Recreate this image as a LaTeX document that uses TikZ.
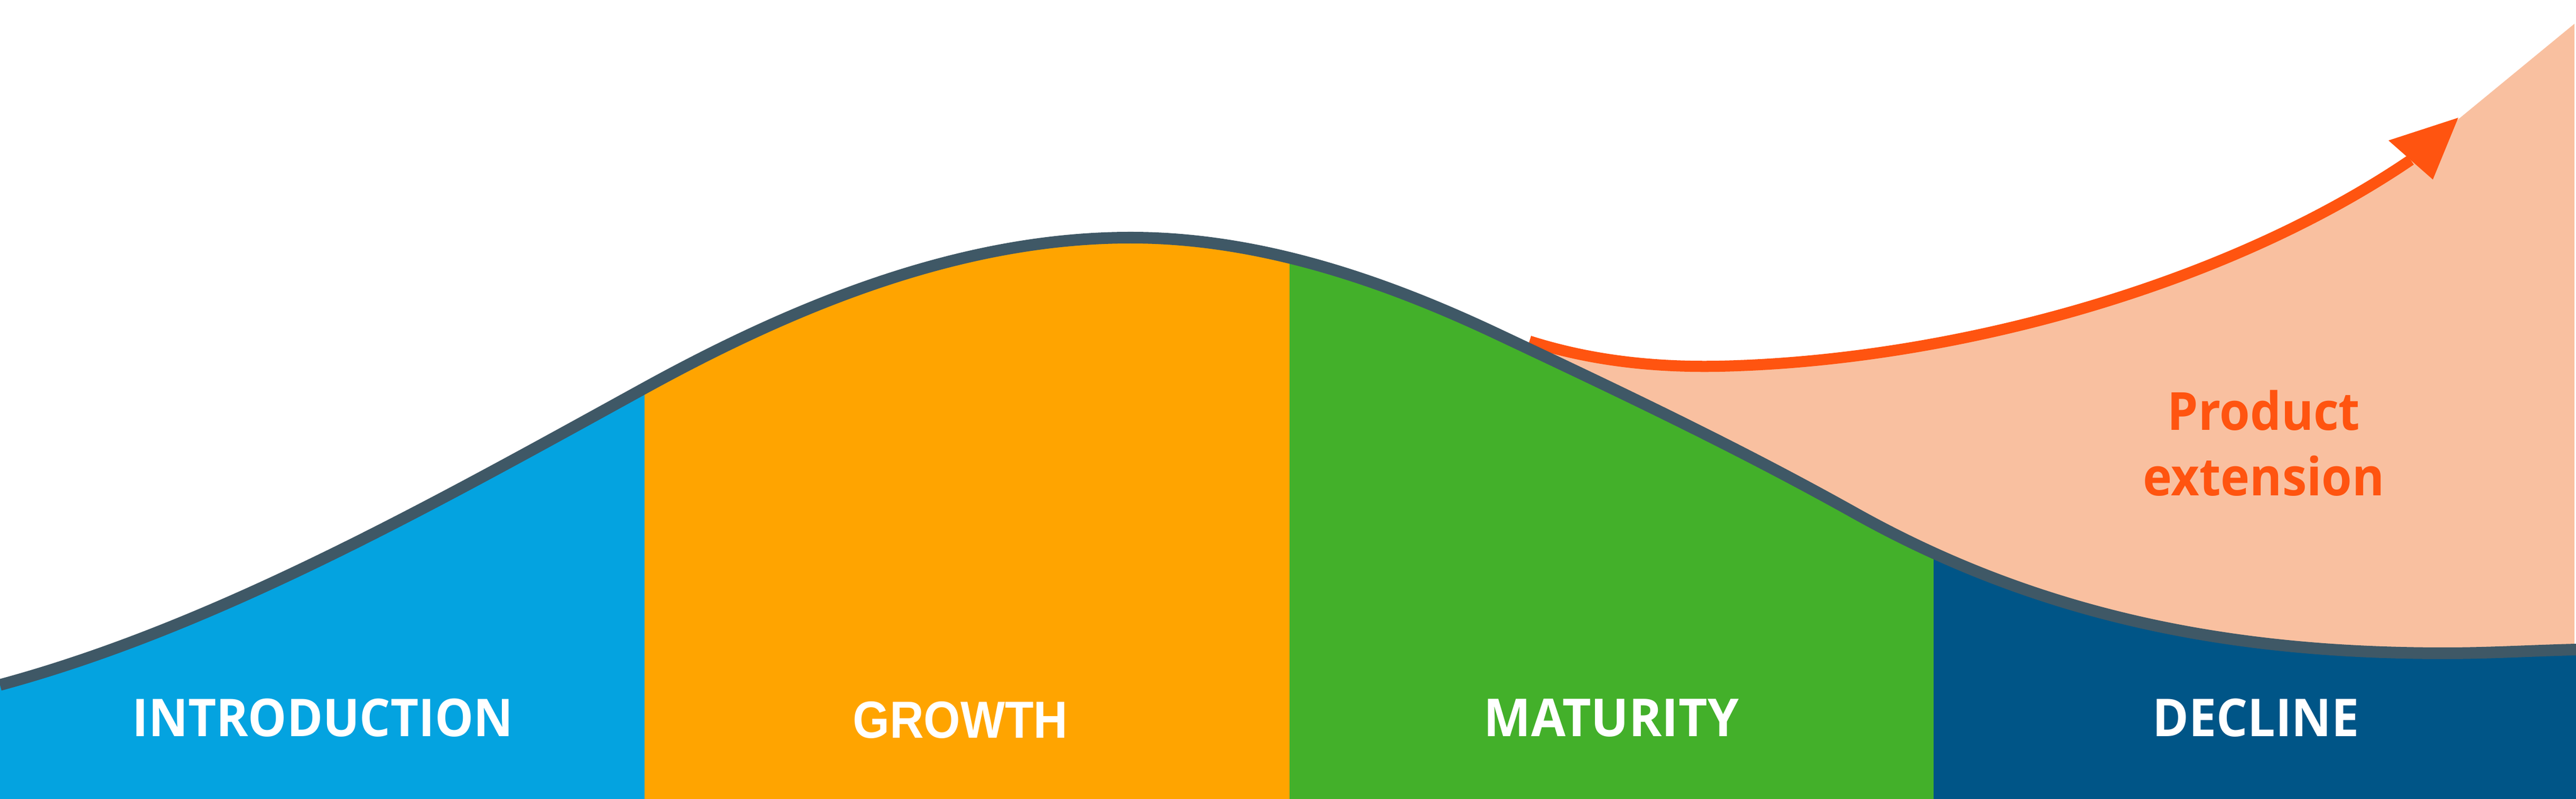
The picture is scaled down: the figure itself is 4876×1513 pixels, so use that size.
\documentclass[tikz,border=0pt]{standalone}
\usepackage{graphicx}
\usepackage{fontspec}
\newfontfamily\labelfont{Open Sans}[FakeStretch=0.935]
\newfontfamily\growthfont{Liberation Sans}
\definecolor{introblue}{HTML}{04A3E0}
\definecolor{growthorange}{HTML}{FFA400}
\definecolor{maturegreen}{HTML}{43B02A}
\definecolor{declinenavy}{HTML}{005587}
\definecolor{curvegray}{HTML}{3F5866}
\definecolor{peach}{HTML}{F9C0A0}
\definecolor{extorange}{HTML}{FF5410}
\newcommand{\phasetext}[4][\labelfont]{\resizebox{#2}{#3}{#1\bfseries #4}}
\tikzset{
  gcurve/.style={insert path={(0,1297)
    .. controls (407,1187) and (813,959) .. (1220,735)
    .. controls (1527,566) and (1833,450) .. (2140,450)
    .. controls (2370,450) and (2599,522) .. (2829,630)
    .. controls (3056,737) and (3283,844) .. (3510,971)
    .. controls (3883,1180) and (4255,1237) .. (4628,1237)
    .. controls (4711,1237) and (4793,1232) .. (4876,1230)}},
  acurve/.style={insert path={(2895,646)
    .. controls (3021,686) and (3148,697) .. (3274,693)
    .. controls (3704,680) and (4213,541) .. (4563,303)}},
  phase/.style={anchor=base, text=white, inner sep=0pt},
  exttext/.style={align=center, text=extorange, font=\labelfont\bfseries\fontsize{28.3}{35.3}\selectfont, inner sep=0pt},
  curveline/.style={draw=curvegray, line width=0.22cm},
  arrowline/.style={draw=extorange, line width=0.21cm}
}
\begin{document}
\begin{tikzpicture}[x=0.01cm,y=-0.01cm]
\useasboundingbox (0,0) rectangle (4876,1513);
\fill[white] (0,0) rectangle (4876,1513);
% product extension area
\fill[peach, acurve] -- (4653,226) -- (4873,45) -- (4873,1513) -- (2895,1513) -- cycle;
% phase bands under the curve
\begin{scope}
  \clip[gcurve] -- (4876,1513) -- (0,1513) -- cycle;
  \fill[introblue] (0,0) rectangle (1220,1513);
  \fill[growthorange] (1220,0) rectangle (2441,1513);
  \fill[maturegreen] (2441,0) rectangle (3660,1513);
  \fill[declinenavy] (3660,0) rectangle (4876,1513);
\end{scope}
% extension arrow
\coordinate (arrowtip) at (4653,223);
\coordinate (headL) at (4521,266);
\coordinate (headR) at (4605,340);
\draw[arrowline, acurve];
\fill[extorange] (arrowtip) -- (headL) -- (headR) -- cycle;
% life cycle curve
\draw[curveline, gcurve];
% labels
\node[phase] (intro) at (611,1394) {\phasetext{7.20cm}{0.715cm}{INTRODUCTION}};
\node[phase] (growth) at (1818,1397) {\phasetext[\growthfont]{4.06cm}{0.69cm}{GROWTH}};
\node[phase] (maturity) at (3050,1394) {\phasetext{4.82cm}{0.71cm}{MATURITY}};
\node[phase] (decline) at (4270,1394) {\phasetext{3.91cm}{0.715cm}{DECLINE}};
\node[exttext, anchor=base] (ext) at (4285,939) {Product\\extension};
\end{tikzpicture}
\end{document}
